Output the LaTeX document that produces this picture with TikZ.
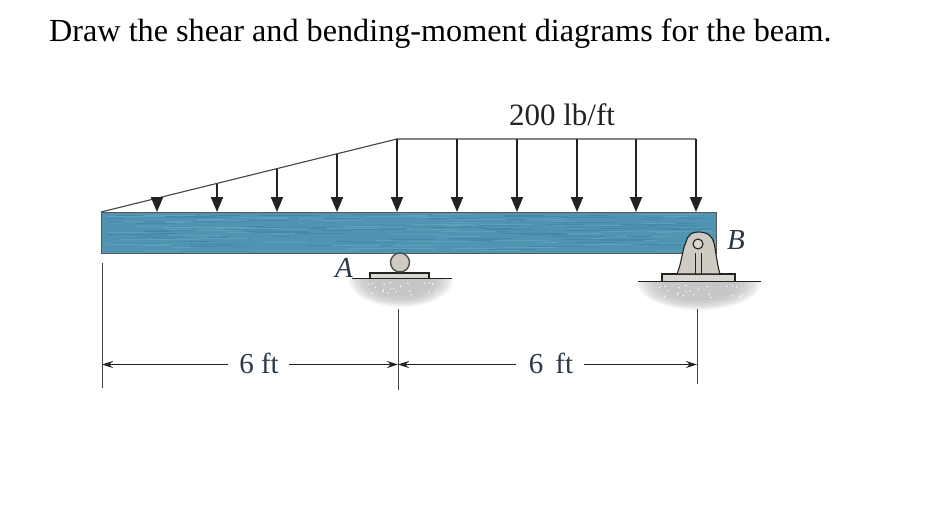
\documentclass[tikz,border=0pt]{standalone}
\usepackage{fontspec}
\setmainfont{Liberation Serif}
\usetikzlibrary{arrows.meta}
\definecolor{beamblue}{HTML}{5094B2}
\definecolor{beamdark}{HTML}{4688A7}
\definecolor{beamlight}{HTML}{5EA0BC}
\definecolor{ink}{HTML}{222222}
\definecolor{metal}{HTML}{CFCBC3}
\definecolor{plate}{HTML}{DAD7D0}
\definecolor{dimtxt}{HTML}{2B3A4A}
\definecolor{soil}{HTML}{BDBDBD}
\tikzset{
  load/.style={draw=ink,line width=2pt,-{Triangle[length=15pt,width=12pt]}},
  loadline/.style={draw=ink!85,line width=1.1pt},
  dimline/.style={draw=ink!85,line width=1pt},
  dimarrow/.style={draw=ink,line width=1.1pt,-{Stealth[length=11pt,width=7pt]}},
  label/.style={inner sep=0pt,text=dimtxt,font=\fontsize{29}{31}\selectfont},
  partedge/.style={draw=ink,line width=1.1pt},
}
\newcommand{\soilpatch}[3]{%
  \begin{scope}
    \clip (#1-70,#2) rectangle (#1+70,#2+40);
    \foreach \k in {1.0,0.96,...,0.6}{
      \fill[soil,opacity=0.15] (#1,#2) ellipse ({#3*\k} and {28*\k});
    }
  \end{scope}
  \pgfmathsetseed{7}
  \foreach \i in {1,...,22}{
    \pgfmathsetmacro{\sx}{#1+(2*rnd-1)*#3*0.72}
    \pgfmathsetmacro{\sy}{#2+2+rnd*14}
    \fill[white] (\sx,\sy) circle (0.8);
  }%
}
\begin{document}
\begin{tikzpicture}[x=1pt,y=-1pt]
\useasboundingbox (0,0) rectangle (926,530);
\fill[white] (0,0) rectangle (926,530);
\node[anchor=west,inner sep=0pt,text=black,font=\fontsize{32.2}{34}\selectfont] (title) at (49,33.5) {Draw the shear and bending-moment diagrams for the beam.};
% ground
\soilpatch{401}{279}{52}
\soilpatch{699}{282}{62}
% beam
\fill[beamblue] (101,212) rectangle (716,253);
\begin{scope}
\clip (101,212) rectangle (716,253);
\pgfmathsetseed{42}
\foreach \i in {1,...,190}{
  \pgfmathsetmacro{\xa}{103+rnd*600}
  \pgfmathsetmacro{\ya}{214+rnd*37}
  \pgfmathsetmacro{\len}{15+rnd*50}
  \pgfmathparse{rnd>0.5?"beamdark":"beamlight"}
  \edef\c{\pgfmathresult}
  \draw[\c,line width=0.9pt] (\xa,\ya) -- ++(\len,0);
}
\end{scope}
\draw[draw=ink!75,line width=1pt] (101,253) rectangle (716,212);
% load top
\coordinate (s0) at (101,212);
\coordinate (s1) at (397,139);
\coordinate (s2) at (696,139);
\draw[loadline] (s0) -- (s1) -- (s2);
\foreach \n/\x/\t in {a/157/198.5,b/217/184,c/277/169,d/337/154,e/397/139,f/457/139,g/517/139,h/577/139,i/636/139,j/696/139}{
  \coordinate (\n top) at (\x,\t);
  \coordinate (\n tip) at (\x,212);
  \draw[load] (\n top) -- (\n tip);
}
% support A
\draw[partedge] (352,278.5) -- (452,278.5);
\draw[partedge,fill=plate] (370,273) rectangle (429,278.5);
\draw[draw=ink!80,line width=1.4pt,fill=metal] (400,262.5) circle (9.5);
\node[inner sep=0pt,text=dimtxt,font=\fontsize{29}{31}\selectfont\itshape] (A) at (344,268) {A};
% support B
\draw[partedge] (638,281.5) -- (761,281.5);
\draw[partedge,fill=metal] (662,274) arc (180:0:6) -- cycle;
\draw[partedge,fill=metal] (723,274) arc (180:0:6) -- cycle;
\draw[partedge,fill=plate] (662,274) rectangle (735,281.5);
\draw[partedge,fill=metal] (677,274) .. controls (682,262) and (682,250) .. (686,242) .. controls (688,234) and (693,232) .. (698,232) .. controls (708,232) and (712,236) .. (714,243) .. controls (716,252) and (717,264) .. (720,274) -- cycle;
\draw[partedge,fill=plate] (698,244) circle (5);
\draw[draw=ink,line width=1pt] (695,253) -- (695,274) (701,253) -- (701,274);
\node[inner sep=0pt,text=dimtxt,font=\fontsize{29}{31}\selectfont\itshape] (B) at (736,240) {B};
% dimensions
\node[label] (d1) at (259,363) {6 ft};
\node[label] (d2) at (551,363) {6 \,ft};
\node[label,text=ink,font=\fontsize{31}{33}\selectfont] (load) at (562,115) {200 lb/ft};
\coordinate (l1) at (102,263); \coordinate (l2) at (102,388);
\coordinate (m1) at (398,309); \coordinate (m2) at (398,390);
\coordinate (r1) at (697,309); \coordinate (r2) at (697,384);
\draw[dimline] (l1) -- (l2);
\draw[dimline] (m1) -- (m2);
\draw[dimline] (r1) -- (r2);
\coordinate (lm) at (102,364.5);
\coordinate (mm) at (398,364.5);
\coordinate (rm) at (697,364.5);
\coordinate (d1l) at (228,364.5); \coordinate (d1r) at (289,364.5);
\coordinate (d2l) at (516,364.5); \coordinate (d2r) at (584,364.5);
\draw[dimarrow] (d1l) -- (lm);
\draw[dimarrow] (d1r) -- (mm);
\draw[dimarrow] (d2l) -- (mm);
\draw[dimarrow] (d2r) -- (rm);
\end{tikzpicture}
\end{document}
